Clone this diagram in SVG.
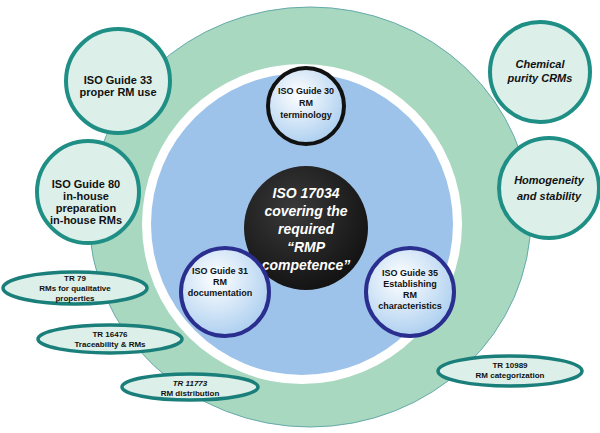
<svg xmlns="http://www.w3.org/2000/svg" width="600" height="433" viewBox="0 0 600 433">
<defs>
<radialGradient id="lb" cx="0.4" cy="0.35" r="0.7"><stop offset="0" stop-color="#ffffff"/><stop offset="1" stop-color="#a9cdef"/></radialGradient>
<radialGradient id="bk" cx="0.4" cy="0.35" r="0.7"><stop offset="0" stop-color="#3a3a3a"/><stop offset="1" stop-color="#111"/></radialGradient>
</defs>
<style>
.t{font-family:"Liberation Sans",Arial,sans-serif;font-weight:bold;fill:#111;text-anchor:middle}
.g{fill:#dcefe9;stroke:#1f8f86;stroke-width:4}
.w{fill:#dcefe9;stroke:#1a7f7a;stroke-width:3.5}
</style>
<rect width="600" height="433" fill="#fff"/>
<g id="rings">
<ellipse cx="310" cy="217" rx="221" ry="210" fill="#a8d8bf" stroke="#6aa"/>
<circle cx="302" cy="224" r="160" fill="#fff"/>
<circle cx="302" cy="224" r="151" fill="#9ec3ea"/>
</g>
<g id="center"><circle cx="306" cy="228" r="62" fill="url(#bk)"/>
<text class="t" font-style="italic" font-size="14" style="fill:#fff"><tspan x="306" y="198">ISO 17034</tspan><tspan x="306" y="216">covering the</tspan><tspan x="306" y="234">required</tspan><tspan x="306" y="252">“RMP</tspan><tspan x="306" y="270">competence”</tspan></text></g>
<g id="g30"><circle cx="306" cy="106" r="38" fill="url(#lb)" stroke="#111" stroke-width="4"/>
<text class="t" font-size="9"><tspan x="306" y="94">ISO Guide 30</tspan><tspan x="306" y="106">RM</tspan><tspan x="306" y="118">terminology</tspan></text></g>
<g id="g31"><circle cx="225" cy="292" r="44" fill="url(#lb)" stroke="#2a2f8f" stroke-width="4"/>
<text class="t" font-size="9"><tspan x="220" y="274">ISO Guide 31</tspan><tspan x="220" y="285">RM</tspan><tspan x="220" y="296">documentation</tspan></text></g>
<g id="g35"><circle cx="410" cy="292" r="44" fill="url(#lb)" stroke="#2a2f8f" stroke-width="4"/>
<text class="t" font-size="9"><tspan x="410" y="276">ISO Guide 35</tspan><tspan x="410" y="287">Establishing</tspan><tspan x="410" y="298">RM</tspan><tspan x="410" y="309">characteristics</tspan></text></g>
<g id="g33"><circle cx="118" cy="81" r="52" class="g"/>
<text class="t" font-size="11"><tspan x="118" y="84">ISO Guide 33</tspan><tspan x="118" y="96">proper RM use</tspan></text></g>
<g id="g80"><circle cx="88" cy="192" r="51" class="g"/>
<text class="t" font-size="11"><tspan x="86" y="188">ISO Guide 80</tspan><tspan x="86" y="200">in-house</tspan><tspan x="86" y="212">preparation</tspan><tspan x="86" y="224">in-house RMs</tspan></text></g>
<g id="chem"><circle cx="540" cy="72" r="50" class="g"/>
<text class="t" font-size="11" font-style="italic"><tspan x="540" y="68">Chemical</tspan><tspan x="540" y="82">purity CRMs</tspan></text></g>
<g id="homo"><circle cx="549" cy="188" r="50" class="g"/>
<text class="t" font-size="11" font-style="italic"><tspan x="549" y="184">Homogeneity</tspan><tspan x="549" y="200">and stability</tspan></text></g>
<g id="tr79"><ellipse cx="75" cy="288" rx="72" ry="16" class="w"/>
<text class="t" font-size="8"><tspan x="75" y="281">TR 79</tspan><tspan x="75" y="291">RMs for qualitative</tspan><tspan x="75" y="301">properties</tspan></text></g>
<g id="tr16476"><ellipse cx="110" cy="339" rx="72" ry="14" class="w"/>
<text class="t" font-size="8"><tspan x="110" y="337">TR 16476</tspan><tspan x="110" y="347">Traceability &amp; RMs</tspan></text></g>
<g id="tr11773"><ellipse cx="190" cy="387" rx="68" ry="13" class="w"/>
<text class="t" font-size="8"><tspan x="190" y="386" font-style="italic">TR 11773</tspan><tspan x="190" y="396">RM distribution</tspan></text></g>
<g id="tr10989"><ellipse cx="510" cy="371" rx="72" ry="15" class="w"/>
<text class="t" font-size="8"><tspan x="510" y="368">TR 10989</tspan><tspan x="510" y="378">RM categorization</tspan></text></g>
<g id="connectors"/>
</svg>
